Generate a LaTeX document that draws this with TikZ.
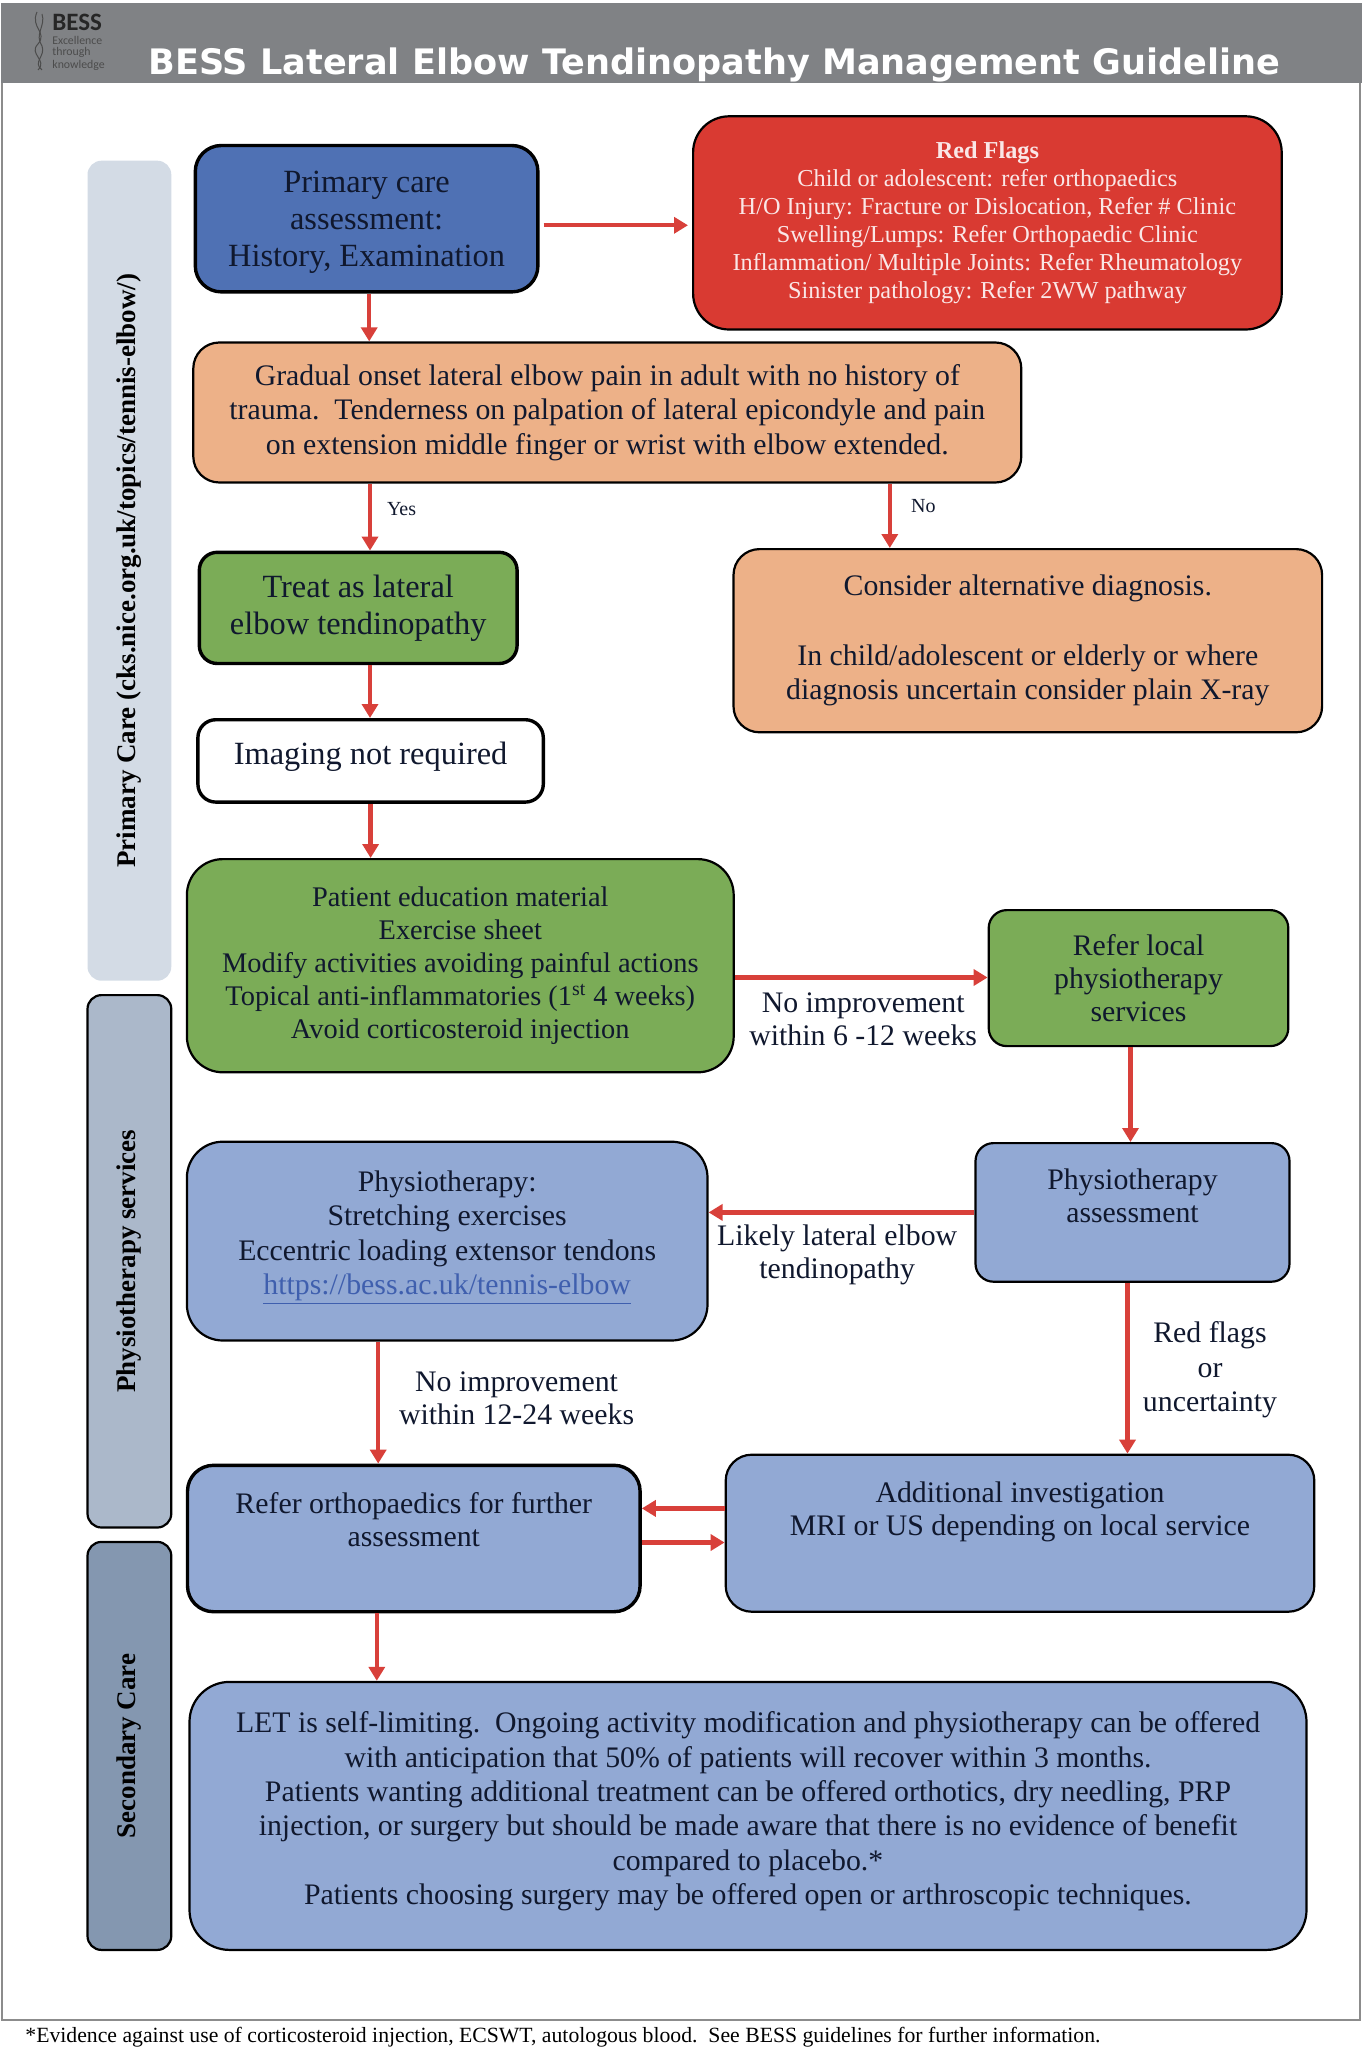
\documentclass[tikz,border=0pt]{standalone}
\usepackage{fontspec}
\setmainfont{Liberation Serif}
\newfontfamily\titlefont{DejaVu Sans}
\newfontfamily\logofont{Carlito}
\usetikzlibrary{arrows.meta}

\definecolor{headgray}{HTML}{808285}
\definecolor{careblue}{HTML}{4F71B4}
\definecolor{flagred}{HTML}{D93A32}
\definecolor{paleorange}{HTML}{EDB188}
\definecolor{treatgreen}{HTML}{7BAC57}
\definecolor{physioblue}{HTML}{92A9D4}
\definecolor{barone}{HTML}{D3DBE5}
\definecolor{bartwo}{HTML}{ABB8CA}
\definecolor{barthree}{HTML}{8497B0}
\definecolor{arrowred}{HTML}{D8403A}
\definecolor{inktext}{HTML}{10182E}
\definecolor{linkblue}{HTML}{3F5FAE}

\tikzset{
    flowbox/.style={draw=black,line width=1.1pt,anchor=north west,align=center,inner sep=0pt,
        rounded corners=13pt,text=inktext,font=\fontsize{14.9}{16.5}\selectfont},
    heavybox/.style={line width=1.7pt},
    bigtext/.style={font=\fontsize{16.2}{18.6}\selectfont},
    midtext/.style={font=\fontsize{14.9}{17.3}\selectfont},
    widetext/.style={font=\fontsize{14.9}{17.15}\selectfont},
    sidebar/.style={line width=1.1pt,anchor=north west,inner sep=0pt,rounded corners=7pt,
        minimum width=41.9pt,font=\bfseries\fontsize{13.5}{15}\selectfont},
    flow/.style={draw=arrowred,line width=2.2pt,-{Triangle[width=8pt,length=7pt]}},
    flowlabel/.style={align=center,inner sep=0pt,text=inktext,font=\fontsize{14.9}{16.5}\selectfont},
    smalllabel/.style={inner sep=0pt,text=inktext,font=\fontsize{10}{12}\selectfont},
    logotext/.style={anchor=west,inner sep=0pt,text=black!70,font=\logofont\fontsize{5.9}{6}\selectfont},
}

\begin{document}
\begin{tikzpicture}[x=1pt,y=-1pt]
    \useasboundingbox (0,0) rectangle (681.5,1024);
    % page frame and header
    \draw[black!45,line width=0.7pt] (1,41) rectangle (680,1010);
    \fill[headgray] (0.5,1.5) rectangle (681,41.5);

    % logo
    \draw[black!70,line width=0.5pt] (18.5,6) .. controls (15,14) and (24,16) .. (19,22)
        .. controls (14,27) and (24,30) .. (19,35);
    \draw[black!70,line width=0.5pt] (21,7) .. controls (23,13) and (17,17) .. (21,23)
        .. controls (23,28) and (16,31) .. (21,35);
    \node[anchor=west,inner sep=0pt,font=\logofont\bfseries\fontsize{12.5}{13}\selectfont,text=black!85] (logoname) at (26,11) {BESS};
    \node[logotext] (logoone) at (26,20) {Excellence};
    \node[logotext] (logotwo) at (26,26.3) {through};
    \node[logotext] (logothree) at (26,32.5) {knowledge};

    \node[anchor=base west,inner sep=0pt,text=white,font=\titlefont\bfseries\fontsize{17.55}{20}\selectfont] (title) at (74,37.5)
        {BESS Lateral Elbow Tendinopathy Management Guideline};

    % side bars
    \node[sidebar,fill=barone,minimum height=410pt] (barprimary) at (43.2,79.8)
        {\rotatebox{90}{Primary Care (cks.nice.org.uk/topics/tennis-elbow/)}};
    \node[sidebar,draw=black,fill=bartwo,minimum height=266.2pt] (barphysio) at (43.2,497)
        {\rotatebox{90}{Physiotherapy services}};
    \node[sidebar,draw=black,fill=barthree,minimum height=204pt] (barsecondary) at (43.2,770.4)
        {\rotatebox{90}{Secondary Care}};

    % boxes
    \node[flowbox,bigtext,heavybox,fill=careblue,minimum width=171.3pt,minimum height=73.2pt,text depth=-1.4pt] (primary) at (96.8,71.9)
        {Primary care\\assessment:\\History, Examination};
    \node[flowbox,fill=flagred,text=white!88!flagred,rounded corners=18pt,minimum width=294.3pt,minimum height=106.6pt,
        font=\fontsize{12.15}{14}\selectfont] (redflags) at (346,57.6)
        {\textbf{Red Flags}\\Child or adolescent: refer orthopaedics\\H/O Injury: Fracture or Dislocation, Refer \# Clinic\\
        Swelling/Lumps: Refer Orthopaedic Clinic\\Inflammation/ Multiple Joints: Refer Rheumatology\\Sinister pathology: Refer 2WW pathway};
    \node[flowbox,midtext,fill=paleorange,minimum width=414pt,minimum height=70pt] (onset) at (96.1,170.7)
        {Gradual onset lateral elbow pain in adult with no history of\\trauma.\ \ Tenderness on palpation of lateral epicondyle and pain\\
        on extension middle finger or wrist with elbow extended.};
    \node[flowbox,bigtext,heavybox,fill=treatgreen,rounded corners=9pt,minimum width=158.9pt,minimum height=55.6pt] (treat) at (98.8,275.3)
        {Treat as lateral\\elbow tendinopathy};
    \node[flowbox,midtext,fill=paleorange,minimum width=294.3pt,minimum height=91.6pt] (consider) at (366.2,274)
        {Consider alternative diagnosis.\\[17.3pt]In child/adolescent or elderly or where\\diagnosis uncertain consider plain X-ray};
    \node[flowbox,bigtext,heavybox,fill=white,rounded corners=9pt,minimum width=172.7pt,minimum height=41.2pt,text depth=7.5pt] (imaging) at (98.1,359)
        {Imaging not required};
    \node[flowbox,fill=treatgreen,rounded corners=18pt,minimum width=273.4pt,minimum height=106.6pt,font=\fontsize{14.2}{16.5}\selectfont] (patient) at (92.9,429)
        {Patient education material\\Exercise sheet\\Modify activities avoiding painful actions\\
        Topical anti-inflammatories (1\textsuperscript{st} 4 weeks)\\Avoid corticosteroid injection};
    \node[flowbox,fill=treatgreen,rounded corners=9pt,minimum width=149.8pt,minimum height=68pt] (referlocal) at (493.8,454.5)
        {Refer local\\physiotherapy\\services};
    \node[flowbox,widetext,fill=physioblue,rounded corners=18pt,minimum width=260.3pt,minimum height=99.4pt,text depth=8.5pt] (physio) at (92.9,570.3)
        {Physiotherapy:\\Stretching exercises\\Eccentric loading extensor tendons\\
        \textcolor{linkblue}{\underline{https://bess.ac.uk/tennis-elbow}}};
    \node[flowbox,fill=physioblue,rounded corners=9pt,minimum width=157pt,minimum height=69.3pt,text depth=16.8pt] (assess) at (487.2,571)
        {Physiotherapy\\assessment};
    \node[flowbox,heavybox,fill=physioblue,minimum width=226.3pt,minimum height=73.2pt,text depth=19.4pt] (ortho) at (92.9,731.8)
        {Refer orthopaedics for further\\assessment};
    \node[flowbox,fill=physioblue,minimum width=294.3pt,minimum height=78.5pt,text depth=25pt] (additional) at (362.3,726.8)
        {Additional investigation\\MRI or US depending on local service};
    \node[flowbox,widetext,fill=physioblue,rounded corners=20pt,minimum width=558.5pt,minimum height=134pt,text depth=7.8pt] (selflimit) at (94.2,840.4)
        {LET is self-limiting.\ \ Ongoing activity modification and physiotherapy can be offered\\
        with anticipation that 50\% of patients will recover within 3 months.\\
        Patients wanting additional treatment can be offered orthotics, dry needling, PRP\\
        injection, or surgery but should be made aware that there is no evidence of benefit\\
        compared to placebo.*\\Patients choosing surgery may be offered open or arthroscopic techniques.};

    % connectors
    \draw[flow,shorten >=2pt,shorten <=2pt] ([yshift=-3.3pt]primary.east) -- ([yshift=-3.3pt]primary.east -| redflags.west);
    \draw[flow] ([xshift=1.3pt]primary.south) -- ([xshift=1.3pt]primary.south |- onset.north);
    \draw[flow] ([xshift=5.9pt]treat.north |- onset.south) -- ([xshift=5.9pt]treat.north);
    \draw[flow] ([xshift=-69pt]consider.north |- onset.south) -- ([xshift=-69pt]consider.north);
    \draw[flow] ([xshift=5.9pt]treat.south) -- ([xshift=5.9pt]treat.south |- imaging.north);
    \draw[flow] (imaging.south) -- (imaging.south |- patient.north);
    \draw[flow] ([yshift=-5.9pt]patient.east) -- ([yshift=-5.9pt]patient.east -| referlocal.west);
    \draw[flow] ([xshift=-4pt]referlocal.south) -- ([xshift=-4pt]referlocal.south |- assess.north);
    \draw[flow] (assess.west) -- (assess.west -| physio.east);
    \draw[flow] ([xshift=-34.5pt]physio.south) -- ([xshift=-34.5pt]physio.south |- ortho.north);
    \draw[flow] ([xshift=-2.5pt]assess.south) -- ([xshift=-2.5pt]assess.south |- additional.north);
    \draw[flow] ([yshift=12.4pt]additional.west) -- ([yshift=12.4pt]additional.west -| ortho.east);
    \draw[flow] ([yshift=-2pt]ortho.east) -- ([yshift=-2pt]ortho.east -| additional.west);
    \draw[flow] ([xshift=-18.5pt]ortho.south) -- ([xshift=-18.5pt]ortho.south |- selflimit.north);

    % connector labels
    \node[smalllabel] (yeslabel) at (200.8,254.4) {Yes};
    \node[smalllabel] (nolabel) at (461.7,253.1) {No};
    \node[flowlabel] (weeksone) at (431.6,509.5) {No improvement\\within 6 -12 weeks};
    \node[flowlabel] (likely) at (418.6,627.2) {Likely lateral elbow\\tendinopathy};
    \node[flowlabel] (weekstwo) at (258.3,699.1) {No improvement\\within 12-24 weeks};
    \node[flowlabel,widetext] (redlabel) at (605,685) {Red flags\\or\\uncertainty};

    % footnote
    \node[anchor=base west,inner sep=0pt,text=black,font=\fontsize{10.86}{12}\selectfont] (footnote) at (12.5,1021)
        {*Evidence against use of corticosteroid injection, ECSWT, autologous blood.\ \ See BESS guidelines for further information.};
\end{tikzpicture}
\end{document}
